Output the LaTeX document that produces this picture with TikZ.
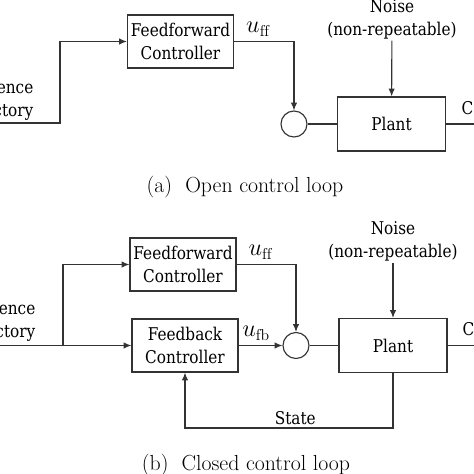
\documentclass[tikz,border=0pt]{standalone}
\usepackage{fontspec}
\usetikzlibrary{arrows.meta,positioning,calc}
\newfontfamily\blockfont[FakeStretch=0.87]{DejaVu Serif}
\definecolor{linegray}{HTML}{333333}
\tikzset{
  ctrlbox/.style={draw=linegray, line width=0.8pt, minimum width=106*0.25mm, minimum height=53*0.25mm, inner sep=0pt, align=center, font=\blockfont\fontsize{12.5}{16.5}\selectfont},
  plantbox/.style={ctrlbox, minimum width=108*0.25mm, minimum height=54*0.25mm},
  sumnode/.style={draw=linegray, line width=0.8pt, circle, minimum size=26*0.25mm, inner sep=0pt},
  sig/.style={draw=linegray, line width=0.8pt},
  sigarrow/.style={sig, -{Latex[length=5.5pt,width=4.5pt]}},
  txt/.style={inner sep=1pt, align=center, font=\blockfont\fontsize{12.5}{16.5}\selectfont},
  ulabel/.style={font=\fontsize{16}{18}\selectfont},
  caption/.style={font=\fontsize{15.5}{18}\selectfont}
}
\begin{document}
\begin{tikzpicture}[x=0.025cm, y=-0.025cm]
  \useasboundingbox (0,0) rectangle (474,474);
  % (a) open loop
  \node[txt, align=right, anchor=east] (ref1) at (35,100) {Reference\\Trajectory};
  \node[ctrlbox] (ff1) at (180.5,41.5) {Feedforward\\Controller};
  \node[sumnode] (sum1) at (294,124) {};
  \node[plantbox] (plant1) at (391.5,124) {Plant};
  \node[txt] (noise1) at (392,19) {Noise\\(non-repeatable)};
  \node[txt, anchor=south west] (outlbl1) at (460,120) {Controlled output};
  \coordinate (in1) at (-10,123);
  \coordinate (br1) at (60,123);
  \coordinate (out1) at (490,124);
  \draw[sigarrow] (in1) -- (br1) |- (ff1);
  \draw[sigarrow] (ff1) -| node[pos=0.2, above=0pt, ulabel] {$u_{\mathrm{ff}}$} (sum1);
  \draw[sig] (sum1) -- (plant1);
  \draw[sigarrow] (noise1) -- (plant1);
  \draw[sig] (plant1) -- (out1);
  \node[caption] (capa) at (245,187) {(a)~ Open control loop};

  % (b) closed loop
  \node[txt, align=right, anchor=east] (ref2) at (37,321.5) {Reference\\Trajectory};
  \node[ctrlbox] (ff2) at (183,264.5) {Feedforward\\Controller};
  \node[ctrlbox] (fb2) at (185,345.5) {Feedback\\Controller};
  \node[sumnode] (sum2) at (296,345.5) {};
  \node[plantbox] (plant2) at (393,345.5) {Plant};
  \node[txt] (noise2) at (393,241.5) {Noise\\(non-repeatable)};
  \node[txt, anchor=south west] (outlbl2) at (461,341) {Controlled output};
  \coordinate (in2) at (-10,345.5);
  \coordinate (br2) at (63,345.5);
  \coordinate (out2) at (490,345.5);
  \coordinate (fbk) at (393,428);
  \draw[sigarrow] (in2) -- (fb2);
  \draw[sigarrow] (br2) |- (ff2);
  \draw[sigarrow] (ff2) -| node[pos=0.2, above=0pt, ulabel] {$u_{\mathrm{ff}}$} (sum2);
  \draw[sigarrow] (fb2) -- node[pos=0.4, above=0pt, ulabel] {$u_{\mathrm{fb}}$} (sum2);
  \draw[sig] (sum2) -- (plant2);
  \draw[sigarrow] (noise2) -- (plant2);
  \draw[sig] (plant2) -- (out2);
  \draw[sigarrow] (plant2) -- (fbk) -| node[pos=0.235, above=1pt, txt] {State} (fb2);
  \node[caption] (capb) at (246,465) {(b)~ Closed control loop};
\end{tikzpicture}
\end{document}
